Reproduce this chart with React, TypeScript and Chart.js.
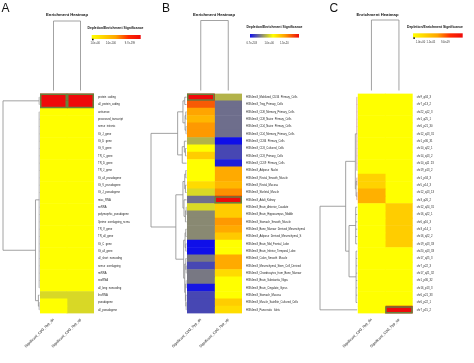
import React, { useEffect, useRef } from 'react';
import { Chart, registerables } from 'chart.js';
Chart.register(...registerables);

const W = 474;
const H = 363;
const FONT = "'Liberation Sans', Arial, Helvetica, sans-serif";

// ---------------- Panel A ----------------
const rowsA = ['protein_coding', 'all_protein_coding', 'antisense', 'processed_transcript', 'sense_intronic', 'IG_J_gene', 'IG_D_gene', 'IG_V_gene', 'TR_C_gene', 'TR_D_gene', 'TR_J_gene', 'IG_all_pseudogene', 'IG_V_pseudogene', 'IG_J_pseudogene', 'misc_RNA', 'snRNA', 'polymorphic_pseudogene', '3prime_overlapping_ncrna', 'TR_V_gene', 'TR_all_gene', 'IG_C_gene', 'IG_all_gene', 'all_short_noncoding', 'sense_overlapping', 'miRNA', 'snoRNA', 'all_long_noncoding', 'lincRNA', 'pseudogene', 'all_pseudogene'];
const colsA = ['Significant_CpG_hyp_dn', 'Significant_CpG_hyp_up'];
const valsA_dn = [1, 1, 0, 0, 0, 0, 0, 0, 0, 0, 0, 0, 0, 0, 0, 0, 0, 0, 0, 0, 0, 0, 0, 0, 0, 0, 0, -0.16, 0, 0];
const valsA_up = [1, 1, 0, 0, 0, 0, 0, 0, 0, 0, 0, 0, 0, 0, 0, 0, 0, 0, 0, 0, 0, 0, 0, 0, 0, 0, 0, -0.16, -0.16, -0.16];
const highlightA = [[0, 0], [1, 0], [0, 1], [1, 1]];
const treeA = [1, [0.01, 0, 1], [0.11, [0.01, 2, 3, 4, 5, 6, 7, 8, 9, 10, 11, 12, 13, 14, 15, 16, 17, 18, 19, 20, 21, 22, 23, 24, 25, 26], [0.03, 27, [0.01, 28, 29]]]];
const legendLabelsA = ['1.0e+00', '1.0e-100', '9.7e-199'];
const legendLabelPosA = [0.07, 0.39, 0.78];

// ---------------- Panel B ----------------
const rowsB = ['H3K4me3_Mobilized_CD34_Primary_Cells', 'H3K4me3_Treg_Primary_Cells', 'H3K4me3_CD8_Memory_Primary_Cells', 'H3K4me3_CD8_Naive_Primary_Cells', 'H3K4me3_CD4_Naive_Primary_Cells', 'H3K4me3_CD4_Memory_Primary_Cells', 'H3K4me3_CD34_Primary_Cells', 'H3K4me3_CD3_Cultured_Cells', 'H3K4me3_CD3_Primary_Cells', 'H3K4me3_CD19_Primary_Cells', 'H3K4me3_Adipose_Nuclei', 'H3K4me3_Rectal_Smooth_Muscle', 'H3K4me3_Rectal_Mucosa', 'H3K4me3_Skeletal_Muscle', 'H3K4me3_Adult_Kidney', 'H3K4me3_Brain_Anterior_Caudate', 'H3K4me3_Brain_Hippocampus_Middle', 'H3K4me3_Stomach_Smooth_Muscle', 'H3K4me3_Bone_Marrow_Derived_Mesenchymal', 'H3K4me3_Adipose_Derived_Mesenchymal_S', 'H3K4me3_Brain_Mid_Frontal_Lobe', 'H3K4me3_Brain_Inferior_Temporal_Lobe', 'H3K4me3_Colon_Smooth_Muscle', 'H3K4me3_Mesenchymal_Stem_Cell_Derived', 'H3K4me3_Chondrocytes_from_Bone_Marrow', 'H3K4me3_Brain_Substantia_Nigra', 'H3K4me3_Brain_Cingulate_Gyrus', 'H3K4me3_Stomach_Mucosa', 'H3K4me3_Muscle_Satellite_Cultured_Cells', 'H3K4me3_Pancreatic_Islets'];
const colsB = ['Significant_CpG_hyp_dn', 'Significant_CpG_hyp_up'];
const valsB_dn = [1, 0.74, 0.5, 0.4, 0.54, 0.54, -0.31, 0, 0.28, 0, 0, 0, 0.2, -0.16, -0.59, -0.16, -0.48, -0.48, -0.48, -0.48, -0.98, -0.98, -0.55, -0.75, -0.55, -0.55, -0.95, -0.75, -0.75, -0.75];
const valsB_up = [-0.31, -0.59, -0.59, -0.59, -0.59, -0.59, -0.98, -0.75, -0.75, -0.92, 0.47, 0.47, 0.4, 0.57, 1, 0.28, 0.28, 0.54, 0.47, 0.3, 0, 0, 0.47, 0.47, 0.2, 0, 0, 0, 0.28, 0.19];
const highlightB = [[0, 0], [14, 1]];
const treeB = [1,
  [0.25, [0.1, [0.05, 0, 1], [0.04, [0.02, 2, 3], [0.015, 4, 5]]], [0.12, [0.06, 6, [0.03, 7, 8]], 9]],
  [0.3,
    [0.1, [0.05, [0.02, 10, 11], [0.03, 12, 13]], [0.07, 14, [0.03, [0.01, 15, 16], 17]]],
    [0.08, [0.04, [0.02, 18, 19], [0.02, 20, 21]], [0.05, [0.02, 22, [0.01, 23, 24]], [0.03, [0.01, 25, 26], [0.02, 27, [0.01, 28, 29]]]]]]];
const legendLabelsB = ['6.7e-203', '1.0e+00', '1.5e-20'];
const legendLabelPosB = [0.035, 0.39, 0.7];

// ---------------- Panel C ----------------
const rowsC = ['chr9_q34_3', 'chr7_p13_2', 'chr22_q12_3', 'chr1_q25_1', 'chr6_p21_30', 'chr12_q13_31', 'chr1_p36_31', 'chr10_q22_1', 'chr14_q13_2', 'chr10_q11_23', 'chr19_p13_2', 'chr1_p34_3', 'chr5_p14_3', 'chr12_q13_13', 'chr3_q26_2', 'chr12_q24_31', 'chr16_q22_1', 'chr6_q16_3', 'chr3_p14_1', 'chr16_q22_2', 'chr19_q13_33', 'chr20_q13_33', 'chr17_q25_3', 'chr7_p22_3', 'chr17_q21_32', 'chr1_p36_32', 'chr16_p13_3', 'chr6_p21_33', 'chr6_p22_1', 'chr7_p15_2'];
const colsC = ['Significant_CpG_hyp_dn', 'Significant_CpG_hyp_up'];
const valsC_dn = [0, 0, 0, 0, 0, 0, 0, 0, 0, 0, 0, 0.25, 0.25, 0.44, 0.44, 0, 0, 0, 0, 0, 0, 0, 0, 0, 0, 0, 0, 0, 0, 0];
const valsC_up = [0, 0, 0, 0, 0, 0, 0, 0, 0, 0, 0, 0, 0, 0, 0, 0.28, 0.28, 0.28, 0.28, 0.28, 0.28, 0, 0, 0, 0, 0, 0, 0, 0, 1];
const highlightC = [[29, 1]];
const treeC = [1,
  [0.31,
    [0.05, [0.01, 0, 1, 2, 3, 4, 5, 6, 7, 8, 9, 10], [0.03, [0.01, 11, 12], [0.01, 13, 14]]],
    [0.22, [0.04, 15, 16, 17, 18, 19, 20], [0.03, 21, 22, 23, 24, 25, 26, 27, 28]]],
  29];
const legendLabelsC = ['1.0e+00', '1.1e-05', '9.4e-09'];
const legendLabelPosC = [0.15, 0.36, 0.65];

const colTree = [1, 0, 1];

// colour scale of cells (depletion blue -> yellow -> enrichment red)
const CELL_STOPS: [number, string][] = [[-1, '#0a0aee'], [0, '#ffff00'], [0.5, '#ffa500'], [1, '#ee0a0a']];
const WARM_BAR: [number, string][] = [[0, '#ffff00'], [0.49, '#ffa500'], [0.75, '#ff2a00'], [1, '#ee0a0a']];
const FULL_BAR: [number, string][] = [[0, '#1010ee'], [0.47, '#ffff00'], [0.7, '#ffa500'], [1, '#ee0a0a']];

function hexRgb(h: string) {
  return [parseInt(h.slice(1, 3), 16), parseInt(h.slice(3, 5), 16), parseInt(h.slice(5, 7), 16)];
}
function colorAt(stops: [number, string][], v: number) {
  if (v <= stops[0][0]) return stops[0][1];
  for (let i = 1; i < stops.length; i++) {
    if (v <= stops[i][0]) {
      const t = (v - stops[i - 1][0]) / (stops[i][0] - stops[i - 1][0]);
      const a = hexRgb(stops[i - 1][1]);
      const b = hexRgb(stops[i][1]);
      const c = a.map((x, k) => Math.round(x + (b[k] - x) * t));
      return `rgb(${c[0]},${c[1]},${c[2]})`;
    }
  }
  return stops[stops.length - 1][1];
}

interface Panel {
  letter: string; letterX: number;
  rows: string[]; cols: string[]; vals: number[][]; highlight: number[][]; tree: any;
  left: number; right: number; top: number; bottom: number;
  rootX: number; colTop: number; titleX: number;
  legX: number; legW: number; legY: number; legH: number; legTitleX: number; legTitleY: number; legLabelY: number;
  legStops: [number, string][]; legLabels: string[]; legLabelPos: number[]; marker: boolean; fineColor: string;
}

const panels: Panel[] = [
  {
    letter: 'A', letterX: 1.5, rows: rowsA, cols: colsA, vals: [valsA_dn, valsA_up], highlight: highlightA, tree: treeA,
    left: 40, right: 94, top: 93.5, bottom: 313.5, rootX: 3, colTop: 21, titleX: 67,
    legX: 91.7, legW: 49, legY: 35, legH: 4, legTitleX: 115.5, legTitleY: 28, legLabelY: 43,
    legStops: WARM_BAR, legLabels: legendLabelsA, legLabelPos: legendLabelPosA, marker: true, fineColor: '#a0a0a0',
  },
  {
    letter: 'B', letterX: 162, rows: rowsB, cols: colsB, vals: [valsB_dn, valsB_up], highlight: highlightB, tree: treeB,
    left: 187, right: 242, top: 93.5, bottom: 313.5, rootX: 151, colTop: 20.5, titleX: 214,
    legX: 250, legW: 49, legY: 34, legH: 3.6, legTitleX: 274.5, legTitleY: 27, legLabelY: 43,
    legStops: FULL_BAR, legLabels: legendLabelsB, legLabelPos: legendLabelPosB, marker: false, fineColor: '#a0a0a0',
  },
  {
    letter: 'C', letterX: 329.5, rows: rowsC, cols: colsC, vals: [valsC_dn, valsC_up], highlight: highlightC, tree: treeC,
    left: 357.7, right: 412.7, top: 93.5, bottom: 313.5, rootX: 320, colTop: 20, titleX: 377.5,
    legX: 413, legW: 49.7, legY: 33.3, legH: 4.3, legTitleX: 435, legTitleY: 26.7, legLabelY: 42.7,
    legStops: WARM_BAR, legLabels: legendLabelsC, legLabelPos: legendLabelPosC, marker: true, fineColor: '#c890a0',
  },
];

function makeDecor(p: Panel) {
  return {
    id: 'decor' + p.letter,
    afterDraw(chart: any) {
      const ctx: CanvasRenderingContext2D = chart.ctx;
      const area = chart.chartArea;
      const xs = chart.scales.x;
      const ys = chart.scales.y;
      const n = p.rows.length;
      const rowH = (area.bottom - area.top) / n;
      ctx.save();

      // highlight borders
      const isHl = (i: number, j: number) => p.highlight.some(([a, b]) => a === i && b === j);
      ctx.strokeStyle = '#66843c';
      ctx.lineWidth = 1.5;
      p.highlight.forEach(([i, j]) => {
        const x0 = xs.getPixelForValue(j) + 0.75;
        const x1 = xs.getPixelForValue(j + 1) - 0.75;
        const yc = ys.getPixelForValue(i);
        const y0 = yc - rowH / 2 + 0.75;
        const y1 = yc + rowH / 2 - 0.75;
        ctx.beginPath();
        ctx.moveTo(x0, yc - rowH / 2); ctx.lineTo(x0, yc + rowH / 2);
        ctx.moveTo(x1, yc - rowH / 2); ctx.lineTo(x1, yc + rowH / 2);
        if (!isHl(i - 1, j)) { ctx.moveTo(x0, y0); ctx.lineTo(x1, y0); }
        if (!isHl(i + 1, j)) { ctx.moveTo(x0, y1); ctx.lineTo(x1, y1); }
        ctx.stroke();
      });

      // dendrograms
      ctx.lineWidth = 0.8;
      const drawTree = (node: any, leafPos: (i: number) => number, hPos: (h: number) => number, vertical: boolean): { pos: number; h: number } => {
        if (typeof node === 'number') return { pos: leafPos(node), h: 0 };
        const [h, ...kids] = node;
        const res = kids.map((k: any) => drawTree(k, leafPos, hPos, vertical));
        const hp = hPos(h);
        ctx.strokeStyle = h <= 0.015 ? p.fineColor : '#8c8c8c';
        ctx.beginPath();
        res.forEach((r: any) => {
          const a = hPos(r.h);
          if (vertical) { ctx.moveTo(r.pos, a); ctx.lineTo(r.pos, hp); }
          else { ctx.moveTo(a, r.pos); ctx.lineTo(hp, r.pos); }
        });
        const ps = res.map((r: any) => r.pos);
        const lo = Math.min(...ps);
        const hi = Math.max(...ps);
        if (vertical) { ctx.moveTo(lo, hp); ctx.lineTo(hi, hp); }
        else { ctx.moveTo(hp, lo); ctx.lineTo(hp, hi); }
        ctx.stroke();
        return { pos: (lo + hi) / 2, h };
      };
      const leafX = area.left - 0.5;
      drawTree(p.tree, (i) => ys.getPixelForValue(i), (h) => leafX - h * (leafX - p.rootX), false);
      const leafY = area.top - 3;
      drawTree(colTree, (j) => xs.getPixelForValue(j + 0.5), (h) => leafY - h * (leafY - p.colTop), true);

      // panel letter & title
      ctx.fillStyle = '#111';
      ctx.textBaseline = 'alphabetic';
      ctx.textAlign = 'left';
      ctx.font = `12px ${FONT}`;
      ctx.fillText(p.letter, p.letterX, 11.7);
      ctx.font = `bold 4.2px ${FONT}`;
      ctx.textAlign = 'center';
      ctx.textBaseline = 'middle';
      ctx.fillText('Enrichment Heatmap', p.titleX, 15);

      // colour key
      ctx.font = `bold 3.4px ${FONT}`;
      ctx.fillText('Depletion/Enrichment Significance', p.legTitleX, p.legTitleY);
      const g = ctx.createLinearGradient(p.legX, 0, p.legX + p.legW, 0);
      p.legStops.forEach(([o, c]) => g.addColorStop(o, c));
      ctx.fillStyle = g;
      ctx.fillRect(p.legX, p.legY, p.legW, p.legH);
      if (p.marker) {
        ctx.fillStyle = '#111';
        ctx.fillRect(p.legX + 0.3, p.legY + p.legH - 0.3, 1.6, 1.6);
      }
      ctx.fillStyle = '#333';
      ctx.font = `2.6px ${FONT}`;
      p.legLabels.forEach((t, k) => ctx.fillText(t, p.legX + p.legLabelPos[k] * p.legW, p.legLabelY));
      ctx.restore();
    },
  };
}

function makeConfig(p: Panel): any {
  const datasets = p.cols.map((c, j) => ({
    label: c,
    data: p.vals[j].map(() => [j, j + 1]),
    backgroundColor: p.vals[j].map((v) => colorAt(CELL_STOPS, v)),
    borderWidth: 0,
    barPercentage: 1,
    categoryPercentage: 1,
    grouped: false,
  }));
  const yAxisW = W - p.right;
  const xAxisH = H - p.bottom;
  return {
    type: 'bar',
    data: { labels: p.rows, datasets },
    options: {
      indexAxis: 'y',
      responsive: false,
      animation: false,
      events: [],
      layout: { padding: { left: p.left, right: 0, top: p.top, bottom: 0 } },
      plugins: { legend: { display: false }, title: { display: false }, tooltip: { enabled: false } },
      scales: {
        x: {
          type: 'linear', min: 0, max: p.cols.length, position: 'bottom',
          grid: { display: false, drawTicks: false }, border: { display: false },
          afterBuildTicks: (ax: any) => { ax.ticks = p.cols.map((_, j) => ({ value: j + 0.5 })); },
          afterFit: (ax: any) => { ax.height = xAxisH; },
          ticks: {
            autoSkip: false, minRotation: 45, maxRotation: 45, padding: 4, color: '#222',
            font: { size: 3.6, family: FONT },
            callback: (v: number) => p.cols[Math.round(v - 0.5)],
          },
        },
        y: {
          type: 'category', position: 'right', offset: true,
          grid: { display: false, drawTicks: false }, border: { display: false },
          afterFit: (ax: any) => { ax.width = yAxisW; },
          ticks: { autoSkip: false, padding: 4, color: '#222', font: { size: 2.7, family: FONT } },
        },
      },
    },
    plugins: [makeDecor(p)],
  };
}

export default function App() {
  const r0 = useRef<HTMLCanvasElement>(null);
  const r1 = useRef<HTMLCanvasElement>(null);
  const r2 = useRef<HTMLCanvasElement>(null);
  const refs = [r0, r1, r2];
  useEffect(() => {
    const charts = panels.map((p, k) => new Chart(refs[k].current as HTMLCanvasElement, makeConfig(p)));
    return () => charts.forEach((c) => c.destroy());
  }, []);
  return (
    <div style={{ position: 'absolute', left: 0, top: 0, width: W, height: H, background: '#ffffff' }}>
      {panels.map((p, k) => (
        <canvas key={p.letter} ref={refs[k]} width={W} height={H}
          style={{ position: 'absolute', left: 0, top: 0, width: W, height: H }} />
      ))}
    </div>
  );
}
